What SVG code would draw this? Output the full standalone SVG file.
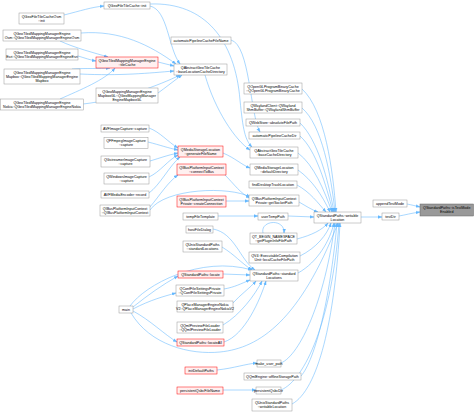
<svg xmlns="http://www.w3.org/2000/svg" width="474" height="413" viewBox="0 0 474 413">
<style>
.n rect{fill:#fff;stroke:#999;stroke-width:0.5}
.r rect{fill:#fff0f0;stroke:#ff0000;stroke-width:0.5}
.f rect{fill:#999;stroke:#666;stroke-width:0.5}
text{font-family:"Liberation Sans",Arial,sans-serif;font-size:3.65px;fill:#000;text-anchor:middle}
#edges path{fill:none;stroke:#63b8ff;stroke-width:0.55;marker-end:url(#ah)}
</style>
<defs>
<marker id="ah" markerUnits="userSpaceOnUse" markerWidth="4" markerHeight="4" viewBox="0 0 4 4" refX="4" refY="2" orient="auto"><path d="M0,0.6 L4,2 L0,3.4 z" fill="#63b8ff" stroke="#63b8ff" stroke-width="0.3"/></marker>
</defs>
<rect width="474" height="413" fill="#fff"/>
<g id="edges">
<path d="M64,15 C80,11 92,7 104,6"/>
<path d="M150,6 C168,10 168,48 180,64"/>
<path d="M150,4 C205,2 235,40 240,100 C243,130 245,140 252,147"/>
<path d="M60,41 C75,48 95,53 108,57"/>
<path d="M81,33 C120,30 150,45 176,64"/>
<path d="M78,56 C85,58 90,60 96,61"/>
<path d="M72,69 C85,68 100,69 110,68"/>
<path d="M80,74 C120,76 150,73 174,71"/>
<path d="M60,99 C80,90 105,80 115,68"/>
<path d="M83,104 C120,100 160,85 180,75"/>
<path d="M158,62 L174,66"/>
<path d="M158,93 C165,88 175,80 182,75"/>
<path d="M205,75 C215,110 235,140 250,150"/>
<path d="M231,40 C250,45 250,115 260,132"/>
<path d="M302,89 C325,110 333,170 336,212"/>
<path d="M302,108 C322,125 331,175 335,212"/>
<path d="M300,123 C318,140 328,180 334,212"/>
<path d="M300,136 C316,150 326,185 333,212"/>
<path d="M298,153 C314,165 324,190 332,212"/>
<path d="M298,170 C312,180 322,195 330,212"/>
<path d="M297,185 C310,192 318,203 326,212"/>
<path d="M299,202 C306,206 312,210 318,212"/>
<path d="M288,216 L314,217"/>
<path d="M263,233 C260,220 285,218 284,233"/>
<path d="M297,239 C312,235 322,230 328,223"/>
<path d="M300,256 C316,248 327,235 331,223"/>
<path d="M298,273 C318,262 330,240 334,223"/>
<path d="M281,363 C300,355 325,300 335,223"/>
<path d="M301,376 C315,360 330,300 337,223"/>
<path d="M281,390 C305,380 332,320 339,223"/>
<path d="M292,404 C318,390 335,320 340,223"/>
<path d="M361,217 L382,217"/>
<path d="M399,216 C405,215 412,213 420,212"/>
<path d="M407,204 C412,205 416,206 420,207"/>
<path d="M149,128 C160,132 168,142 178,148"/>
<path d="M148,142 C160,145 168,148 178,150"/>
<path d="M150,161 C160,158 168,155 178,153"/>
<path d="M149,177 C160,172 168,160 178,155"/>
<path d="M149,193 C160,185 170,165 180,157"/>
<path d="M150,207 C160,195 168,182 178,175"/>
<path d="M150,210 C165,188 230,186 250,197"/>
<path d="M223,153 C235,158 242,165 250,168"/>
<path d="M224,174 C235,185 240,193 250,198"/>
<path d="M226,201 L249,201"/>
<path d="M218,216 L258,216"/>
<path d="M213,229 C235,233 240,260 255,270"/>
<path d="M222,247 C235,255 240,262 252,270"/>
<path d="M223,274 L250,275"/>
<path d="M224,289 C235,287 240,284 250,280"/>
<path d="M233,303 C240,295 250,288 256,281"/>
<path d="M223,325 C240,315 255,295 262,281"/>
<path d="M224,342 C245,335 260,300 266,281"/>
<path d="M130,306 C145,285 200,255 252,270"/>
<path d="M133,307 C148,295 162,285 178,276"/>
<path d="M133,309 C150,300 165,296 176,293"/>
<path d="M133,311 C150,320 165,335 177,342"/>
<path d="M131,313 C150,345 190,355 220,352 C260,348 300,320 338,223"/>
<path d="M217,370 C235,368 245,364 257,363"/>
<path d="M223,390 L256,390"/>
</g>
<g id="init" class="n"><rect x="104" y="2" width="46" height="7"/><text x="127" y="6.8">QGeoFileTileCache::init</text></g>
<g id="osmInit" class="n"><rect x="19" y="13" width="45" height="11"/><text x="41.5" y="17.75">QGeoFileTileCacheOsm</text><text x="41.5" y="21.85">::init</text></g>
<g id="engOsm" class="n"><rect x="3" y="30" width="78" height="11"/><text x="42" y="34.75">QGeoTiledMappingManagerEngine</text><text x="42" y="38.85">Osm::QGeoTiledMappingManagerEngineOsm</text></g>
<g id="engEsri" class="n"><rect x="6" y="49" width="72" height="11"/><text x="42" y="53.75">QGeoTiledMappingManagerEngine</text><text x="42" y="57.85">Esri::QGeoTiledMappingManagerEngineEsri</text></g>
<g id="engMapbox" class="n"><rect x="4" y="69" width="76" height="15"/><text x="42" y="73.7">QGeoTiledMappingManagerEngine</text><text x="42" y="77.8">Mapbox::QGeoTiledMappingManagerEngine</text><text x="42" y="81.9">Mapbox</text></g>
<g id="engNokia" class="n"><rect x="0.5" y="99" width="83" height="11"/><text x="42" y="103.75">QGeoTiledMappingManagerEngine</text><text x="42" y="107.85">Nokia::QGeoTiledMappingManagerEngineNokia</text></g>
<g id="tileCache" class="r"><rect x="96" y="57" width="62" height="11"/><text x="127" y="61.75">QGeoTiledMappingManagerEngine</text><text x="127" y="65.85">::tileCache</text></g>
<g id="mapboxGL" class="n"><rect x="96" y="88" width="62" height="15"/><text x="127" y="92.7">QGeoMappingManagerEngine</text><text x="127" y="96.8">MapboxGL::QGeoMappingManager</text><text x="127" y="100.9">EngineMapboxGL</text></g>
<g id="baseLoc" class="n"><rect x="174" y="64" width="53" height="11"/><text x="200.5" y="68.75">QAbstractGeoTileCache</text><text x="200.5" y="72.85">::baseLocationCacheDirectory</text></g>
<g id="autoPipeFN" class="n"><rect x="171" y="37" width="60" height="7"/><text x="201" y="41.8">automaticPipelineCacheFileName</text></g>
<g id="glBinCache" class="n"><rect x="244" y="83" width="58" height="11"/><text x="273" y="87.75">QOpenGLProgramBinaryCache</text><text x="273" y="91.85">::QOpenGLProgramBinaryCache</text></g>
<g id="wayland" class="n"><rect x="244" y="102" width="58" height="11"/><text x="273" y="106.75">QWaylandClient::QWayland</text><text x="273" y="110.85">ShmBuffer::QWaylandShmBuffer</text></g>
<g id="webStore" class="n"><rect x="246" y="119" width="54" height="7"/><text x="273" y="123.8">QWebStore::absoluteFilePath</text></g>
<g id="autoPipeDir" class="n"><rect x="249" y="132" width="51" height="7"/><text x="274.5" y="136.8">automaticPipelineCacheDir</text></g>
<g id="baseCacheDir" class="n"><rect x="250" y="147" width="48" height="11"/><text x="274" y="151.75">QAbstractGeoTileCache</text><text x="274" y="155.85">::baseCacheDirectory</text></g>
<g id="defaultDir" class="n"><rect x="250" y="164" width="48" height="11"/><text x="274" y="168.75">QMediaStorageLocation</text><text x="274" y="172.85">::defaultDirectory</text></g>
<g id="trash" class="n"><rect x="249" y="181" width="48" height="7"/><text x="273" y="185.8">findDesktopTrashLocation</text></g>
<g id="getSocketPath" class="n"><rect x="249" y="195" width="50" height="11"/><text x="274" y="199.75">QIBusPlatformInputContext</text><text x="274" y="203.85">Private::getSocketPath</text></g>
<g id="userTempPath" class="n"><rect x="258" y="213" width="30" height="7"/><text x="273" y="217.8">userTempPath</text></g>
<g id="getPluginInfo" class="n"><rect x="250" y="233" width="47" height="11"/><text x="273.5" y="237.75">QT_BEGIN_NAMESPACE</text><text x="273.5" y="241.85">::getPluginInfoFilePath</text></g>
<g id="v4" class="n"><rect x="249" y="252" width="51" height="11"/><text x="274.5" y="256.75">QV4::ExecutableCompilation</text><text x="274.5" y="260.85">Unit::localCacheFilePath</text></g>
<g id="stdLocs" class="n"><rect x="250" y="270" width="48" height="11"/><text x="274" y="274.75">QStandardPaths::standard</text><text x="274" y="278.85">Locations</text></g>
<g id="writable" class="n"><rect x="314" y="212" width="47" height="11"/><text x="337.5" y="216.75">QStandardPaths::writable</text><text x="337.5" y="220.85">Location</text></g>
<g id="appendTestMode" class="n"><rect x="373" y="200" width="34" height="7"/><text x="390" y="204.8">appendTestMode</text></g>
<g id="testDir" class="n"><rect x="382" y="213" width="17" height="7"/><text x="390.5" y="217.8">testDir</text></g>
<g id="focal" class="f"><rect x="420" y="204" width="53.5" height="12"/><text x="446.75" y="209.25">QStandardPaths::isTestMode</text><text x="446.75" y="213.35">Enabled</text></g>
<g id="avfImg" class="n"><rect x="101" y="125" width="48" height="7"/><text x="125" y="129.8">AVFImageCapture::capture</text></g>
<g id="ffmpeg" class="n"><rect x="104" y="137.5" width="44" height="11"/><text x="126" y="142.25">QFFmpegImageCapture</text><text x="126" y="146.35">::capture</text></g>
<g id="gst" class="n"><rect x="101" y="156" width="49" height="11"/><text x="125.5" y="160.75">QGstreamerImageCapture</text><text x="125.5" y="164.85">::capture</text></g>
<g id="win" class="n"><rect x="104" y="173" width="45" height="11"/><text x="126.5" y="177.75">QWindowsImageCapture</text><text x="126.5" y="181.85">::capture</text></g>
<g id="avfRec" class="n"><rect x="101" y="191" width="48" height="7"/><text x="125" y="195.8">AVFMediaEncoder::record</text></g>
<g id="ibusCtor" class="n"><rect x="100" y="205" width="50" height="11"/><text x="125" y="209.75">QIBusPlatformInputContext</text><text x="125" y="213.85">::QIBusPlatformInputContext</text></g>
<g id="genFile" class="r"><rect x="178" y="146" width="45" height="11"/><text x="200.5" y="150.75">QMediaStorageLocation</text><text x="200.5" y="154.85">::generateFileName</text></g>
<g id="connectToBus" class="r"><rect x="177" y="164" width="49" height="11"/><text x="201.5" y="168.75">QIBusPlatformInputContext</text><text x="201.5" y="172.85">::connectToBus</text></g>
<g id="createConn" class="r"><rect x="177" y="196" width="49" height="11"/><text x="201.5" y="200.75">QIBusPlatformInputContext</text><text x="201.5" y="204.85">Private::createConnection</text></g>
<g id="tempFileTemplate" class="n"><rect x="183" y="213" width="35" height="7"/><text x="200.5" y="217.8">tempFileTemplate</text></g>
<g id="hostFileDialog" class="n"><rect x="186" y="226" width="27" height="7"/><text x="199.5" y="230.8">hostFileDialog</text></g>
<g id="qunixStd" class="n"><rect x="183" y="241" width="39" height="11"/><text x="202.5" y="245.75">QUnixStandardPaths</text><text x="202.5" y="249.85">::standardLocations</text></g>
<g id="locate" class="r"><rect x="178" y="271" width="45" height="7"/><text x="200.5" y="275.8">QStandardPaths::locate</text></g>
<g id="confFile" class="n"><rect x="176" y="285" width="48" height="11"/><text x="200" y="289.75">QConfFileSettingsPrivate</text><text x="200" y="293.85">::QConfFileSettingsPrivate</text></g>
<g id="nokiaPlace" class="n"><rect x="177" y="301" width="56" height="11"/><text x="205" y="305.75">QPlaceManagerEngineNokia</text><text x="205" y="309.85">V2::QPlaceManagerEngineNokiaV2</text></g>
<g id="qmlPreview" class="n"><rect x="177" y="322" width="46" height="11"/><text x="200" y="326.75">QQmlPreviewFileLoader</text><text x="200" y="330.85">::QQmlPreviewFileLoader</text></g>
<g id="locateAll" class="r"><rect x="177" y="339" width="47" height="7"/><text x="200.5" y="343.8">QStandardPaths::locateAll</text></g>
<g id="main" class="n"><rect x="119" y="306" width="14" height="7"/><text x="126" y="310.8">main</text></g>
<g id="initDefaultPaths" class="r"><rect x="185" y="367" width="32" height="7"/><text x="201" y="371.8">initDefaultPaths</text></g>
<g id="makeUserPath" class="n"><rect x="257" y="360" width="24" height="7"/><text x="269" y="364.8">make_user_path</text></g>
<g id="offline" class="n"><rect x="244" y="373" width="57" height="7"/><text x="272.5" y="377.8">QQmlEngine::offlineStoragePath</text></g>
<g id="persistentFN" class="r"><rect x="177" y="387" width="46" height="7"/><text x="200" y="391.8">persistentQsbcFileName</text></g>
<g id="persistentDir" class="n"><rect x="256" y="387" width="25" height="7"/><text x="268.5" y="391.8">persistentQsbcDir</text></g>
<g id="unixWritable" class="n"><rect x="252" y="399" width="40" height="12"/><text x="272" y="404.25">QUnixStandardPaths</text><text x="272" y="408.35">::writableLocation</text></g>
</svg>
